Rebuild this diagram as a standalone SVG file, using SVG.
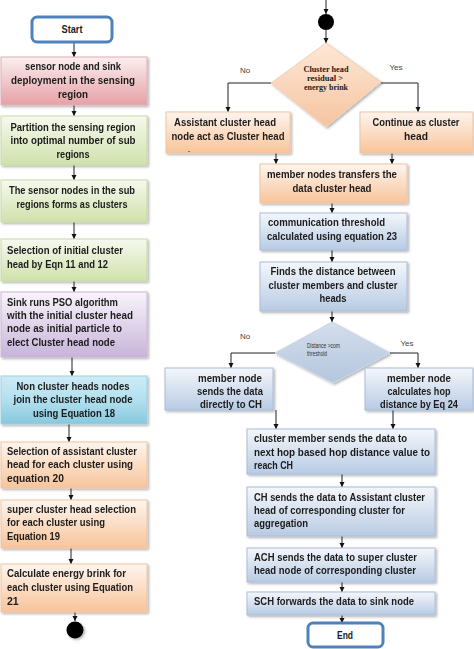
<svg xmlns="http://www.w3.org/2000/svg" width="474" height="649" viewBox="0 0 474 649">
<defs>
<style>
.t{font-family:"Liberation Sans",Arial,sans-serif;font-weight:bold;font-size:10.5px;fill:#1c1c1c}
.m{text-anchor:middle}
.lbl{font-family:"Liberation Sans",Arial,sans-serif;font-size:8px;fill:#444}
.dt{font-family:"Liberation Serif","Times New Roman",serif;font-weight:bold;font-size:8px;fill:#222;text-anchor:middle}
.ds{font-family:"Liberation Sans",Arial,sans-serif;font-size:7px;fill:#333}
.box{stroke-width:1}
.pink{fill:url(#gPink);stroke:#dcb2b6}
.green{fill:url(#gGreen);stroke:#c9d9ab}
.purple{fill:url(#gPurple);stroke:#c8b8d6}
.teal{fill:url(#gTeal);stroke:#9fcfe0}
.orange{fill:url(#gOrange);stroke:#efc4a4}
.blue{fill:url(#gBlue);stroke:#a9bdd8}
.term{fill:#fff;stroke:#4f81bd;stroke-width:3}
.c{fill:none;stroke:#222;stroke-width:1;marker-end:url(#ah)}
</style>
<linearGradient id="gPink" x1="0" y1="0" x2="0" y2="1"><stop offset="0" stop-color="#fbefef"/><stop offset="1" stop-color="#e6a0a6"/></linearGradient>
<linearGradient id="gGreen" x1="0" y1="0" x2="0" y2="1"><stop offset="0" stop-color="#f6f9ee"/><stop offset="1" stop-color="#d0e1ab"/></linearGradient>
<linearGradient id="gPurple" x1="0" y1="0" x2="0" y2="1"><stop offset="0" stop-color="#f8f4fb"/><stop offset="1" stop-color="#c8b4d9"/></linearGradient>
<linearGradient id="gTeal" x1="0" y1="0" x2="0" y2="1"><stop offset="0" stop-color="#cdebf5"/><stop offset="0.5" stop-color="#b3e0ee"/><stop offset="1" stop-color="#86c8de"/></linearGradient>
<linearGradient id="gOrange" x1="0" y1="0" x2="0" y2="1"><stop offset="0" stop-color="#fef5ee"/><stop offset="1" stop-color="#f8c49a"/></linearGradient>
<linearGradient id="gBlue" x1="0" y1="0" x2="0" y2="1"><stop offset="0" stop-color="#f4f7fb"/><stop offset="1" stop-color="#b8cbe4"/></linearGradient>
<linearGradient id="gDia1" x1="0" y1="0" x2="0" y2="1"><stop offset="0" stop-color="#fde8d6"/><stop offset="1" stop-color="#f6c4a0"/></linearGradient>
<linearGradient id="gDia2" x1="0" y1="0" x2="0" y2="1"><stop offset="0" stop-color="#d3deec"/><stop offset="1" stop-color="#b4c6de"/></linearGradient>
<filter id="sh" x="-10%" y="-10%" width="125%" height="135%"><feDropShadow dx="1.5" dy="1.5" stdDeviation="1" flood-color="#000" flood-opacity="0.3"/></filter>
<marker id="ah" markerUnits="userSpaceOnUse" markerWidth="6" markerHeight="6" refX="5" refY="3" orient="auto"><path d="M0,0.5 L5,3 L0,5.5 Z" fill="#111"/></marker>
</defs>
<rect width="474" height="649" fill="#fff"/>

<g id="connectors">
<path class="c" d="M74,42 V57"/>
<path class="c" d="M74,105 V116"/>
<path class="c" d="M74,165 V180"/>
<path class="c" d="M74,222 V239"/>
<path class="c" d="M74,281 V292"/>
<path class="c" d="M72,357 V376"/>
<path class="c" d="M69,424 V442"/>
<path class="c" d="M71,488 V500"/>
<path class="c" d="M71,548 V564"/>
<path class="c" d="M75,612 V621"/>
<path class="c" d="M326,0 V14"/>
<path class="c" d="M326,30 V43"/>
<path class="c" d="M271,83 H228 V112"/>
<path class="c" d="M381,83 H418 V112"/>
<path class="c" d="M276,153 V164"/>
<path class="c" d="M392,153 V164"/>
<path class="c" d="M332,203 V213"/>
<path class="c" d="M332,250 V262"/>
<path class="c" d="M332,311 V322"/>
<path class="c" d="M275,353 H231 V368"/>
<path class="c" d="M390,353 H418 V368"/>
<path class="c" d="M276,410 V429"/>
<path class="c" d="M393,410 V429"/>
<path class="c" d="M342,474 V487"/>
<path class="c" d="M342,536 V548"/>
<path class="c" d="M342,582 V592"/>
<path class="c" d="M342,615 V623"/>
</g>

<g id="start">
<rect class="term" x="32" y="17" width="80" height="25" rx="5"/>
<text class="t m" x="72" y="33" textLength="21" lengthAdjust="spacingAndGlyphs">Start</text>
</g>

<g id="n1" filter="url(#sh)">
<rect class="box pink" x="1" y="57" width="146" height="48"/>
<text class="t m" x="73" y="70" textLength="96" lengthAdjust="spacingAndGlyphs">sensor node and sink</text>
<text class="t m" x="73" y="84" textLength="124" lengthAdjust="spacingAndGlyphs">deployment  in the sensing</text>
<text class="t m" x="73" y="98" textLength="30" lengthAdjust="spacingAndGlyphs">region</text>
</g>

<g id="n2" filter="url(#sh)">
<rect class="box green" x="1" y="116" width="146" height="49"/>
<text class="t m" x="73" y="131" textLength="125" lengthAdjust="spacingAndGlyphs">Partition the sensing region</text>
<text class="t m" x="73" y="144" textLength="125" lengthAdjust="spacingAndGlyphs">into optimal number of sub</text>
<text class="t m" x="73" y="158" textLength="33" lengthAdjust="spacingAndGlyphs">regions</text>
</g>

<g id="n3" filter="url(#sh)">
<rect class="box green" x="1" y="180" width="146" height="42"/>
<text class="t m" x="72" y="194" textLength="126" lengthAdjust="spacingAndGlyphs">The sensor nodes in the sub</text>
<text class="t m" x="72" y="208" textLength="111" lengthAdjust="spacingAndGlyphs">regions forms as clusters</text>
</g>

<g id="n4" filter="url(#sh)">
<rect class="box green" x="1" y="239" width="146" height="42"/>
<text class="t" x="7" y="254" textLength="116" lengthAdjust="spacingAndGlyphs">Selection of initial cluster</text>
<text class="t" x="7" y="268" textLength="101" lengthAdjust="spacingAndGlyphs">head by Eqn 11 and 12</text>
</g>

<g id="n5" filter="url(#sh)">
<rect class="box purple" x="1" y="292" width="146" height="65"/>
<text class="t" x="7" y="306" textLength="111" lengthAdjust="spacingAndGlyphs">Sink runs PSO algorithm</text>
<text class="t" x="7" y="319" textLength="126" lengthAdjust="spacingAndGlyphs">with the initial cluster head</text>
<text class="t" x="7" y="332" textLength="115" lengthAdjust="spacingAndGlyphs">node as initial particle to</text>
<text class="t" x="7" y="346" textLength="108" lengthAdjust="spacingAndGlyphs">elect Cluster head node</text>
</g>

<g id="n6" filter="url(#sh)">
<rect class="box teal" x="1" y="376" width="146" height="48"/>
<text class="t m" x="73" y="390" textLength="113" lengthAdjust="spacingAndGlyphs">Non cluster heads nodes</text>
<text class="t m" x="73" y="403" textLength="119" lengthAdjust="spacingAndGlyphs">join the cluster head node</text>
<text class="t m" x="74" y="417" textLength="82" lengthAdjust="spacingAndGlyphs">using Equation 18</text>
</g>

<g id="n7" filter="url(#sh)">
<rect class="box orange" x="1" y="442" width="146" height="46"/>
<text class="t" x="7" y="455" textLength="130" lengthAdjust="spacingAndGlyphs">Selection of assistant cluster</text>
<text class="t" x="7" y="468" textLength="126" lengthAdjust="spacingAndGlyphs">head  for each cluster using</text>
<text class="t" x="7" y="482" textLength="57" lengthAdjust="spacingAndGlyphs">equation  20</text>
</g>

<g id="n8" filter="url(#sh)">
<rect class="box orange" x="1" y="500" width="146" height="48"/>
<text class="t" x="7" y="513" textLength="129" lengthAdjust="spacingAndGlyphs">super cluster head selection</text>
<text class="t" x="7" y="526" textLength="98" lengthAdjust="spacingAndGlyphs">for each cluster using</text>
<text class="t" x="7" y="540" textLength="53" lengthAdjust="spacingAndGlyphs">Equation 19</text>
</g>

<g id="n9" filter="url(#sh)">
<rect class="box orange" x="1" y="564" width="146" height="48"/>
<text class="t" x="7" y="577" textLength="119" lengthAdjust="spacingAndGlyphs">Calculate energy brink for</text>
<text class="t" x="7" y="591" textLength="126" lengthAdjust="spacingAndGlyphs">each cluster using Equation</text>
<text class="t" x="7" y="605">21</text>
</g>

<g id="end1" filter="url(#sh)">
<circle cx="75" cy="630" r="8.5" fill="#000"/>
</g>

<g id="start2">
<circle cx="326" cy="22" r="8" fill="#000"/>
</g>

<g id="d1">
<polygon points="326,43 381,82 326,127 271,83" fill="url(#gDia1)" stroke="#f0d0b8" stroke-width="1" filter="url(#sh)"/>
<text class="dt" x="326" y="72" textLength="45" lengthAdjust="spacingAndGlyphs">Cluster head</text>
<text class="dt" x="325" y="81" textLength="36" lengthAdjust="spacingAndGlyphs">residual  &gt;</text>
<text class="dt" x="326" y="90" textLength="44" lengthAdjust="spacingAndGlyphs">energy brink</text>
<text class="lbl" x="245" y="73" text-anchor="middle">No</text>
<text class="lbl" x="396" y="70" text-anchor="middle">Yes</text>
</g>

<g id="r1" filter="url(#sh)">
<rect class="box orange" x="166" y="112" width="124" height="41"/>
<text class="t m" x="225" y="126" textLength="102" lengthAdjust="spacingAndGlyphs">Assistant cluster head</text>
<text class="t m" x="228" y="140" textLength="113" lengthAdjust="spacingAndGlyphs">node act as Cluster head</text>
<text class="t" x="188" y="152" style="font-size:7px">.</text>
</g>

<g id="r2" filter="url(#sh)">
<rect class="box orange" x="360" y="112" width="113" height="41"/>
<text class="t m" x="416" y="126" textLength="87" lengthAdjust="spacingAndGlyphs">Continue as cluster</text>
<text class="t m" x="416" y="140" textLength="24" lengthAdjust="spacingAndGlyphs">head</text>
</g>

<g id="r3" filter="url(#sh)">
<rect class="box orange" x="260" y="164" width="147" height="39"/>
<text class="t m" x="332" y="178" textLength="130" lengthAdjust="spacingAndGlyphs">member nodes transfers the</text>
<text class="t m" x="332" y="192" textLength="79" lengthAdjust="spacingAndGlyphs">data cluster head</text>
</g>

<g id="r4" filter="url(#sh)">
<rect class="box blue" x="260" y="213" width="147" height="37"/>
<text class="t" x="268" y="226" textLength="117" lengthAdjust="spacingAndGlyphs">communication threshold</text>
<text class="t" x="267" y="240" textLength="130" lengthAdjust="spacingAndGlyphs">calculated using equation 23</text>
</g>

<g id="r5" filter="url(#sh)">
<rect class="box blue" x="260" y="262" width="147" height="49"/>
<text class="t m" x="333" y="275" textLength="125" lengthAdjust="spacingAndGlyphs">Finds the distance between</text>
<text class="t m" x="333" y="289" textLength="129" lengthAdjust="spacingAndGlyphs">cluster members and cluster</text>
<text class="t m" x="333" y="302" textLength="27" lengthAdjust="spacingAndGlyphs">heads</text>
</g>

<g id="d2">
<polygon points="332,322 390,353 333,383 275,353" fill="url(#gDia2)" stroke="#c8d4e4" stroke-width="1" filter="url(#sh)"/>
<text class="ds" x="307" y="348" textLength="33" lengthAdjust="spacingAndGlyphs">Distance &gt;com</text>
<text class="ds" x="307" y="356" textLength="20" lengthAdjust="spacingAndGlyphs">threshold</text>
<text class="lbl" x="245" y="339" text-anchor="middle">No</text>
<text class="lbl" x="407" y="346" text-anchor="middle">Yes</text>
</g>

<g id="r6" filter="url(#sh)">
<rect class="box blue" x="165" y="368" width="108" height="42"/>
<text class="t m" x="230" y="382" textLength="64" lengthAdjust="spacingAndGlyphs">member node</text>
<text class="t m" x="230" y="395" textLength="66" lengthAdjust="spacingAndGlyphs">sends the data</text>
<text class="t m" x="231" y="408" textLength="62" lengthAdjust="spacingAndGlyphs">directly to CH</text>
</g>

<g id="r7" filter="url(#sh)">
<rect class="box blue" x="365" y="368" width="108" height="42"/>
<text class="t m" x="419" y="382" textLength="64" lengthAdjust="spacingAndGlyphs">member node</text>
<text class="t m" x="419" y="395" textLength="63" lengthAdjust="spacingAndGlyphs">calculates hop</text>
<text class="t m" x="419" y="408" textLength="78" lengthAdjust="spacingAndGlyphs">distance by Eq 24</text>
</g>

<g id="r8" filter="url(#sh)">
<rect class="box blue" x="247" y="429" width="188" height="45"/>
<text class="t" x="254" y="442" textLength="153" lengthAdjust="spacingAndGlyphs">cluster member sends the data to</text>
<text class="t" x="254" y="456" textLength="176" lengthAdjust="spacingAndGlyphs">next hop based hop distance value to</text>
<text class="t" x="254" y="469" textLength="39" lengthAdjust="spacingAndGlyphs">reach CH</text>
</g>

<g id="r9" filter="url(#sh)">
<rect class="box blue" x="247" y="487" width="188" height="49"/>
<text class="t" x="254" y="501" textLength="171" lengthAdjust="spacingAndGlyphs">CH sends the data to Assistant cluster</text>
<text class="t" x="254" y="514" textLength="151" lengthAdjust="spacingAndGlyphs">head of corresponding cluster for</text>
<text class="t" x="254" y="527" textLength="54" lengthAdjust="spacingAndGlyphs">aggregation</text>
</g>

<g id="r10" filter="url(#sh)">
<rect class="box blue" x="247" y="548" width="188" height="34"/>
<text class="t" x="254" y="561" textLength="163" lengthAdjust="spacingAndGlyphs">ACH sends the data to super cluster</text>
<text class="t" x="254" y="574" textLength="162" lengthAdjust="spacingAndGlyphs">head node of corresponding cluster</text>
</g>

<g id="r11" filter="url(#sh)">
<rect class="box blue" x="247" y="592" width="188" height="23"/>
<text class="t" x="254" y="605" textLength="160" lengthAdjust="spacingAndGlyphs">SCH forwards the data to sink node</text>
</g>

<g id="end">
<rect class="term" x="308" y="623" width="75" height="24" rx="5"/>
<text class="t m" x="345" y="639" textLength="16" lengthAdjust="spacingAndGlyphs">End</text>
</g>
</svg>
